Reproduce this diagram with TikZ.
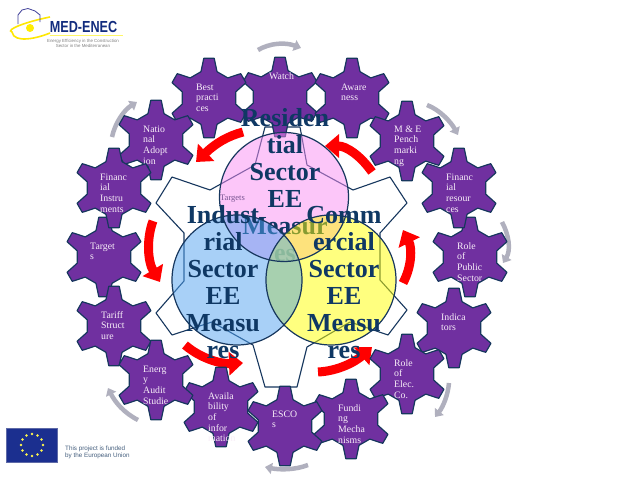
\documentclass[tikz,border=0pt]{standalone}
\usepackage{fontspec}
\setmainfont{Liberation Serif}
\setsansfont{Liberation Sans}
\usetikzlibrary{arrows.meta}
\definecolor{gearfill}{HTML}{7030A0}
\definecolor{navy}{HTML}{17375E}
\definecolor{bigtext}{HTML}{0F3864}
\definecolor{pinkc}{HTML}{FA8FF5}
\definecolor{bluec}{HTML}{52A3F0}
\definecolor{yellowc}{HTML}{FFFF00}
\definecolor{lensc}{HTML}{7DBAE4}
\definecolor{arrowgray}{HTML}{B0B0BE}
\definecolor{geartext}{HTML}{F8EEF8}
\definecolor{eublue}{HTML}{1B2F8F}
\tikzset{
  gearbody/.style={fill=gearfill,draw=navy,line width=1.2pt,line join=round},
  geartextstyle/.style={inner sep=0pt,anchor=north west,align=left,text=geartext,font=\fontsize{9.8}{10.6}\selectfont},
  bigtextstyle/.style={inner sep=0pt,anchor=north,align=center,text=bigtext,font=\fontsize{26}{27}\selectfont\bfseries},
  venn/.style={fill opacity=.5},
  ring/.style={draw=navy,line width=1.2pt},
  redarrow/.style={draw=red,line width=9pt,-{Triangle[length=14pt,width=23pt]}},
  grayarrow/.style={draw=arrowgray,line width=4.5pt,-{Triangle[length=7pt,width=11pt]}},
}
\newcommand{\gearunit}[6]{%
  \begin{scope}[shift={(#2,#3)}]
    \path[gearbody] (82.5:40)
      \foreach \k in {0,...,5}{
        -- ({97.5+60*\k}:40) -- ({107+60*\k}:27.5) -- ({133+60*\k}:27.5) -- ({142.5+60*\k}:40)
      } -- cycle;
  \end{scope}
  \node[geartextstyle] (#1) at (#4,{#5-4}) {\rule{0pt}{7pt}#6};
}
\begin{document}
\begin{tikzpicture}[x=1pt,y=-1pt]
\useasboundingbox (0,0) rectangle (638,479);
\fill[white] (0,0) rectangle (638,479);

% logo
\coordinate (sw1) at (50,17);
\coordinate (sw2) at (12,32);
\coordinate (sw3) at (50,33);
\draw[yellow!90!orange,line width=1.6pt] (sw1) .. controls (25,22) and (5,30) .. (sw2) .. controls (14,44) and (38,38) .. (sw3);
\draw[yellow!60,line width=.7pt] (50,35) -- (123,35);
\draw[black!30!blue!50!gray,line width=.8pt] (18,24) -- (18,15) -- (22,10) -- (28,8.5) -- (35,11) -- (40,15) -- (40,22);
\fill[yellow!95!orange] (30,28) circle (4);
\node[inner sep=0pt,xscale=.79,text=navy!80!blue,font=\sffamily\bfseries\fontsize{16}{16}\selectfont] (logotitle) at (83.5,27) {MED-ENEC};
\node[inner sep=0pt,align=center,text=black!50,font=\sffamily\fontsize{4.4}{5.2}\selectfont] (logosub) at (83,43.5) {Energy Efficiency in the Construction\\Sector in the Mediterranean};

% EU flag
\fill[eublue,draw=black!10!eublue!70] (6,428) rectangle (57,462);
\foreach \a in {0,30,...,330}{\fill[yellow!70!white] (32,445)++(\a:11) circle (1.3);}
\node[inner sep=0pt,anchor=west,align=left,text=navy!80,font=\sffamily\fontsize{6.3}{7.2}\selectfont] (eutext) at (65,452.5) {This project is funded\\by the European Union};

% gray arrows
\coordinate (ga1) at (258,50); \coordinate (gb1) at (301,48);
\coordinate (ga2) at (112,137); \coordinate (gb2) at (137,102);
\coordinate (ga3) at (427,105); \coordinate (gb3) at (458,135);
\coordinate (ga4) at (502,222); \coordinate (gb4) at (503,263);
\coordinate (ga5) at (449,383); \coordinate (gb5) at (435,417);
\coordinate (ga6) at (308,465); \coordinate (gb6) at (265,467);
\coordinate (ga7) at (138,420); \coordinate (gb7) at (108,388);
\draw[grayarrow] (ga1) .. controls (270,43) and (285,42) .. (gb1);
\draw[grayarrow] (ga2) .. controls (115,123) and (124,110) .. (gb2);
\draw[grayarrow] (ga3) .. controls (440,110) and (451,122) .. (gb3);
\draw[grayarrow] (ga4) .. controls (509,235) and (511,250) .. (gb4);
\draw[grayarrow] (ga5) .. controls (448,395) and (443,407) .. (gb5);
\draw[grayarrow] (ga6) .. controls (295,470) and (280,470) .. (gb6);
\draw[grayarrow] (ga7) .. controls (124,413) and (115,402) .. (gb7);

% central gear
\draw[fill=white,draw=navy,line width=1.1pt,line join=round]
 (265,127) -- (300,127) -- (307,165) -- (353,190) -- (390,177) -- (407,203) -- (380,233) -- (380,280) -- (407,310) -- (388,335) -- (350,322) -- (307,347) -- (297,387) -- (265,387) -- (253,345) -- (212,322) -- (172,335) -- (156,313) -- (184,281) -- (184,233) -- (156,203) -- (172,177) -- (210,190) -- (255,165) -- cycle;

% red arrows
\coordinate (ra1) at (243,132); \coordinate (rb1) at (196,162);
\coordinate (ra2) at (372,172); \coordinate (rb2) at (325,146);
\coordinate (ra3) at (403,283); \coordinate (rb3) at (403,230);
\coordinate (ra4) at (153,221); \coordinate (rb4) at (160,282);
\coordinate (ra5) at (185,345); \coordinate (rb5) at (243,363);
\coordinate (ra6) at (318,372); \coordinate (rb6) at (372,347);
\draw[redarrow] (ra1) .. controls (228,136) and (216,143) .. (rb1);
\draw[redarrow] (ra2) .. controls (360,155) and (346,146) .. (rb2);
\draw[redarrow] (ra3) .. controls (412,266) and (412,248) .. (rb3);
\draw[redarrow] (ra4) .. controls (146,240) and (148,262) .. (rb4);
\draw[redarrow] (ra5) .. controls (200,358) and (220,364) .. (rb5);
\draw[redarrow] (ra6) .. controls (338,371) and (355,362) .. (rb6);

% small gears
\gearunit{watch}{280}{97}{269}{76}{Watch}
\gearunit{best}{209}{98}{196}{87}{Best\\practi\\ces}
\gearunit{aware}{352}{98}{341}{87}{Aware\\ness}
\gearunit{national}{156}{140}{143}{129}{Natio\\nal\\Adopt\\ion}
\gearunit{monitor}{407}{141}{394}{129}{M \& E\\Pench\\marki\\ng}
\gearunit{target}{104}{257}{90}{246}{Target\\s}
\gearunit{fininstr}{114}{188}{100}{177}{Financ\\ial\\Instru\\ments}
\gearunit{role}{470}{257}{457}{246}{Role\\of\\Public\\Sector}
\gearunit{finres}{459}{188}{446}{177}{Financ\\ial\\resour\\ces}
\gearunit{tariff}{114}{326}{101}{315}{Tariff\\Struct\\ure}
\gearunit{indic}{454}{328}{441}{317}{Indica\\tors}
\gearunit{avail}{221}{407}{208}{396}{Availa\\bility\\of\\infor\\mation}
\gearunit{energy}{156}{380}{143}{369}{Energ\\y\\Audit\\Studie}
\gearunit{elec}{407}{374}{394}{363}{Role\\of\\Elec.\\Co.}
\gearunit{fund}{351}{419}{338}{408}{Fundi\\ng\\Mecha\\nisms}
\gearunit{esco}{285}{426}{272}{414}{ESCO\\s}

% venn
\fill[pinkc,venn] (284,197) circle (64.5);
\node[inner sep=0pt,text=gearfill!55!gray,font=\fontsize{8.5}{9}\selectfont] (targetsmall) at (232.5,199) {Targets};
\node[bigtextstyle] (residential) at (285,107) {\rule{0pt}{19pt}Residen\\tial\\Sector\\EE\\Measur\\es};
\fill[bluec,venn] (237,280) circle (65);
\fill[yellowc,venn] (331,280) circle (65);
\begin{scope}
  \clip (237,280) circle (65);
  \fill[lensc,venn] (331,280) circle (65);
\end{scope}
\draw[ring] (284,197) circle (64.5);
\draw[ring] (237,280) circle (65);
\draw[ring] (331,280) circle (65);
\node[bigtextstyle] (industrial) at (223,204) {\rule{0pt}{19pt}Indust\\rial\\Sector\\EE\\Measu\\res};
\node[bigtextstyle] (commercial) at (344,204) {\rule{0pt}{19pt}Comm\\ercial\\Sector\\EE\\Measu\\res};
\end{tikzpicture}
\end{document}
